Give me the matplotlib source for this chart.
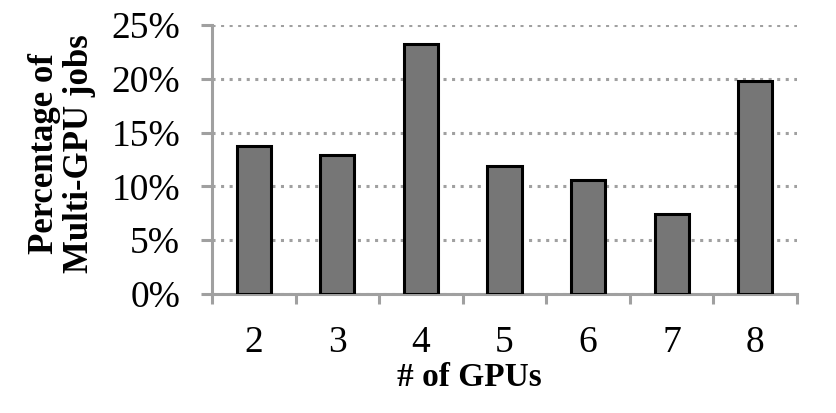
import matplotlib

matplotlib.use("Agg")
import matplotlib.pyplot as plt
from matplotlib.ticker import FixedLocator, FuncFormatter

# data
gpus = [2, 3, 4, 5, 6, 7, 8]
share = [13.8, 12.9, 23.2, 11.9, 10.6, 7.4, 19.8]
yticks = [0, 5, 10, 15, 20, 25]

COR_BARRA = "#767676"
COR_EIXO = "#A0A0A0"

plt.rcParams["font.family"] = ["Liberation Serif", "DejaVu Serif"]

fig = plt.figure(figsize=(8.37, 4.13), dpi=100)
ax = fig.add_axes([212 / 837, 1 - 294 / 413, (797 - 212) / 837, (294 - 25) / 413])

ax.bar(gpus, share, width=0.41, color=COR_BARRA, edgecolor="black", linewidth=2.2, zorder=3)

ax.set_xlim(1.5, 8.5)
ax.set_ylim(0, 25)

# y axis
ax.set_yticks(yticks)
ax.yaxis.set_major_formatter(FuncFormatter(lambda v, _: f"{v:.0f}%"))
ax.grid(axis="y", color=COR_EIXO, linewidth=2.2, linestyle=(0, (1, 1.8)),
        dash_capstyle="butt", zorder=1)
ax.tick_params(axis="y", direction="out", length=8, width=2.2, color=COR_EIXO,
               labelsize=27, pad=15)

# x axis: labels at centres, tick marks at category boundaries
ax.set_xticks(gpus)
ax.xaxis.set_minor_locator(FixedLocator([g + 0.5 for g in [1] + gpus]))
ax.tick_params(axis="x", which="major", length=0, labelsize=27, pad=23)
ax.tick_params(axis="x", which="minor", direction="out", length=7.2, width=2.2,
               color=COR_EIXO)

for lado in ("top", "right"):
    ax.spines[lado].set_visible(False)
for lado in ("left", "bottom"):
    ax.spines[lado].set_color(COR_EIXO)
    ax.spines[lado].set_linewidth(2.2)

fig.text(469 / 837, 1 - 378 / 413, "# of GPUs", ha="center", va="center",
         fontsize=24, fontweight="bold")
fig.text(62 / 837, 1 - 154 / 413, "Percentage of\nMulti-GPU jobs", ha="center",
         va="center", rotation=90, fontsize=25, fontweight="bold",
         multialignment="center", linespacing=1.05)

fig.savefig("out.png", dpi=100, facecolor="white")
